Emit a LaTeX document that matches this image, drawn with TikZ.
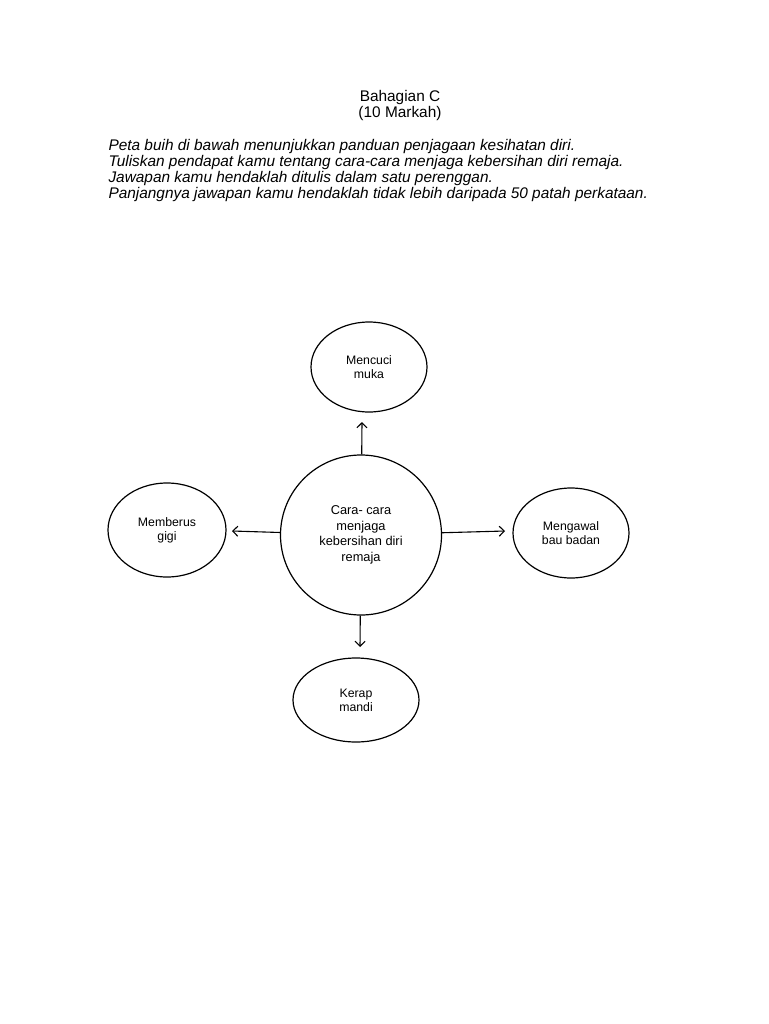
\documentclass[tikz,border=0pt]{standalone}
\usepackage{fontspec}
\setmainfont{Liberation Sans}
\usetikzlibrary{shapes.geometric,arrows.meta}
\begin{document}
\begin{tikzpicture}[x=1pt,y=-1pt,
  bubble/.style={draw, ellipse, line width=1.2pt, inner sep=0pt, align=center,
    font=\fontsize{12.3}{14}\selectfont},
  hub/.style={bubble, font=\fontsize{12.8}{15.7}\selectfont},
  arr/.style={-{Straight Barb[length=5pt,width=10pt]}, line width=1.1pt},
  head/.style={anchor=base, font=\fontsize{15.4}{16}\selectfont},
  instr/.style={anchor=base west, font=\fontsize{15.4}{16}\selectfont\itshape}]
\useasboundingbox (0,0) rectangle (768,1024);
\fill[white] (0,0) rectangle (768,1024);

\node[head] (t1) at (400,102) {Bahagian C};
\node[head] (t2) at (400,118) {(10 Markah)};

\node[instr] (p1) at (105,151) {Peta buih di bawah menunjukkan panduan penjagaan kesihatan diri.};
\node[instr] (p2) at (105,167) {Tuliskan pendapat kamu tentang cara-cara menjaga kebersihan diri remaja.};
\node[instr] (p3) at (105,183) {Jawapan kamu hendaklah ditulis dalam satu perenggan.};
\node[instr] (p4) at (105,199) {Panjangnya jawapan kamu hendaklah tidak lebih daripada 50 patah perkataan.};

\node[hub, minimum width=161pt, minimum height=160pt] (c) at (361,535)
  {Cara- cara\\menjaga\\kebersihan diri\\remaja};
\node[bubble, minimum width=116pt, minimum height=90pt] (up) at (369,367) {Mencuci\\muka};
\node[bubble, minimum width=118pt, minimum height=94pt] (lf) at (167,530) {Memberus\\gigi};
\node[bubble, minimum width=116pt, minimum height=90pt] (rt) at (571,533) {Mengawal\\bau badan};
\node[bubble, minimum width=126pt, minimum height=84pt] (dn) at (356,700) {Kerap\\mandi};

\coordinate (tipU) at (362,422);
\coordinate (tipL) at (232,531);
\coordinate (tipR) at (505,531);
\coordinate (tipD) at (360,647);

\draw[arr] (c) -- (tipU);
\draw[arr] (c) -- (tipL);
\draw[arr] (c) -- (tipR);
\draw[arr] (c) -- (tipD);
\end{tikzpicture}
\end{document}
